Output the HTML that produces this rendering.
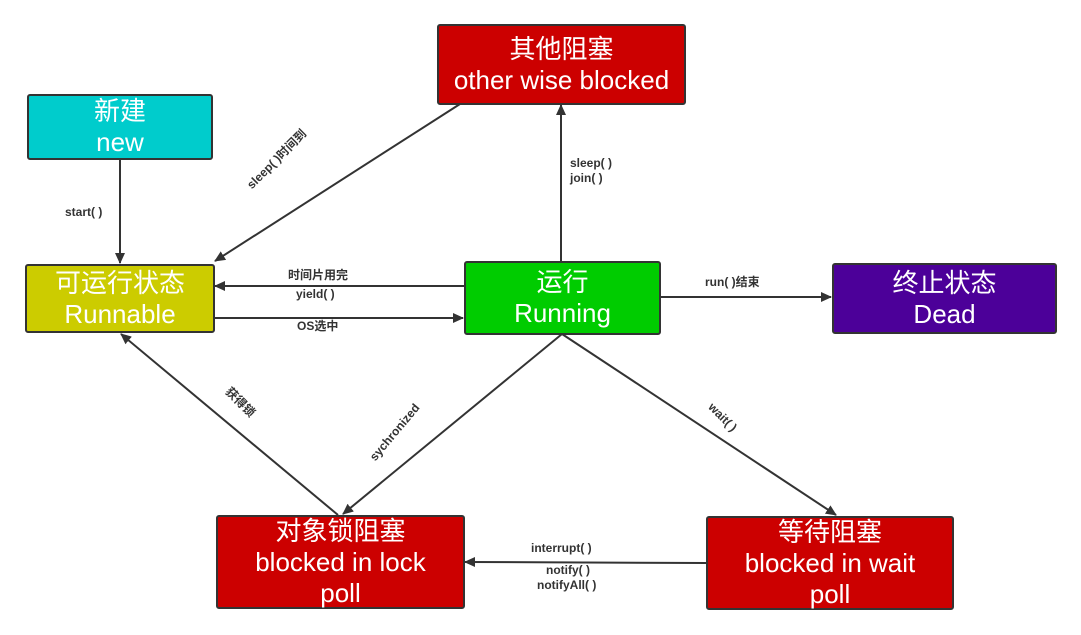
<!DOCTYPE html>
<html><head><meta charset="utf-8"><style>
body{margin:0;width:1081px;height:635px;background:#fff;position:relative;overflow:hidden;font-family:"Liberation Sans","Noto Sans CJK SC",sans-serif}
.b{position:absolute;box-sizing:border-box;border:2px solid #333;border-radius:3px;color:#fff;font-size:26px;line-height:31px;text-align:center;display:flex;flex-direction:column;justify-content:center}
.l{position:absolute;font-size:12px;font-weight:bold;color:#333;white-space:nowrap;line-height:15px}
svg{position:absolute;left:0;top:0}
</style></head><body>
<svg width="1081" height="635">
<defs><marker id="a" markerWidth="12" markerHeight="12" refX="10" refY="6" orient="auto" markerUnits="userSpaceOnUse"><path d="M0,1 L11,6 L0,11 z" fill="#333"/></marker></defs>
<g stroke="#333" stroke-width="2" fill="none" marker-end="url(#a)">
<line x1="120" y1="159" x2="120" y2="263"/>
<line x1="460" y1="104" x2="215" y2="261"/>
<line x1="464" y1="286" x2="215" y2="286"/>
<line x1="214" y1="318" x2="463" y2="318"/>
<line x1="561" y1="261" x2="561" y2="105"/>
<line x1="660" y1="297" x2="831" y2="297"/>
<line x1="562" y1="334" x2="343" y2="514"/>
<line x1="338" y1="515" x2="121" y2="334"/>
<line x1="562" y1="334" x2="836" y2="515"/>
<line x1="706" y1="563" x2="465" y2="562"/>
</g></svg>
<div class="b" style="left:27px;top:94px;width:186px;height:66px;background:#00CCCC">新建<br>new</div>
<div class="b" style="left:437px;top:24px;width:249px;height:81px;background:#CC0000">其他阻塞<br>other wise blocked</div>
<div class="b" style="left:25px;top:264px;width:190px;height:69px;background:#CCCC00">可运行状态<br>Runnable</div>
<div class="b" style="left:464px;top:261px;width:197px;height:74px;background:#00CC00">运行<br>Running</div>
<div class="b" style="left:832px;top:263px;width:225px;height:71px;background:#4C0099">终止状态<br>Dead</div>
<div class="b" style="left:216px;top:515px;width:249px;height:94px;background:#CC0000">对象锁阻塞<br>blocked in lock<br>poll</div>
<div class="b" style="left:706px;top:516px;width:248px;height:94px;background:#CC0000">等待阻塞<br>blocked in wait<br>poll</div>
<div class="l" style="left:65px;top:205px">start( )</div>
<div class="l" style="left:238px;top:152px;transform:rotate(-45deg);transform-origin:center">sleep( )时间到</div>
<div class="l" style="left:288px;top:268px">时间片用完</div>
<div class="l" style="left:296px;top:287px">yield( )</div>
<div class="l" style="left:297px;top:319px">OS选中</div>
<div class="l" style="left:570px;top:156px">sleep( )<br>join( )</div>
<div class="l" style="left:705px;top:275px">run( )结束</div>
<div class="l" style="left:222px;top:395px;transform:rotate(45deg)">获得锁</div>
<div class="l" style="left:360px;top:425px;transform:rotate(-50deg)">sychronized</div>
<div class="l" style="left:705px;top:410px;transform:rotate(45deg)">wait( )</div>
<div class="l" style="left:531px;top:541px">interrupt( )</div>
<div class="l" style="left:546px;top:563px">notify( )</div>
<div class="l" style="left:537px;top:578px">notifyAll( )</div>
</body></html>
